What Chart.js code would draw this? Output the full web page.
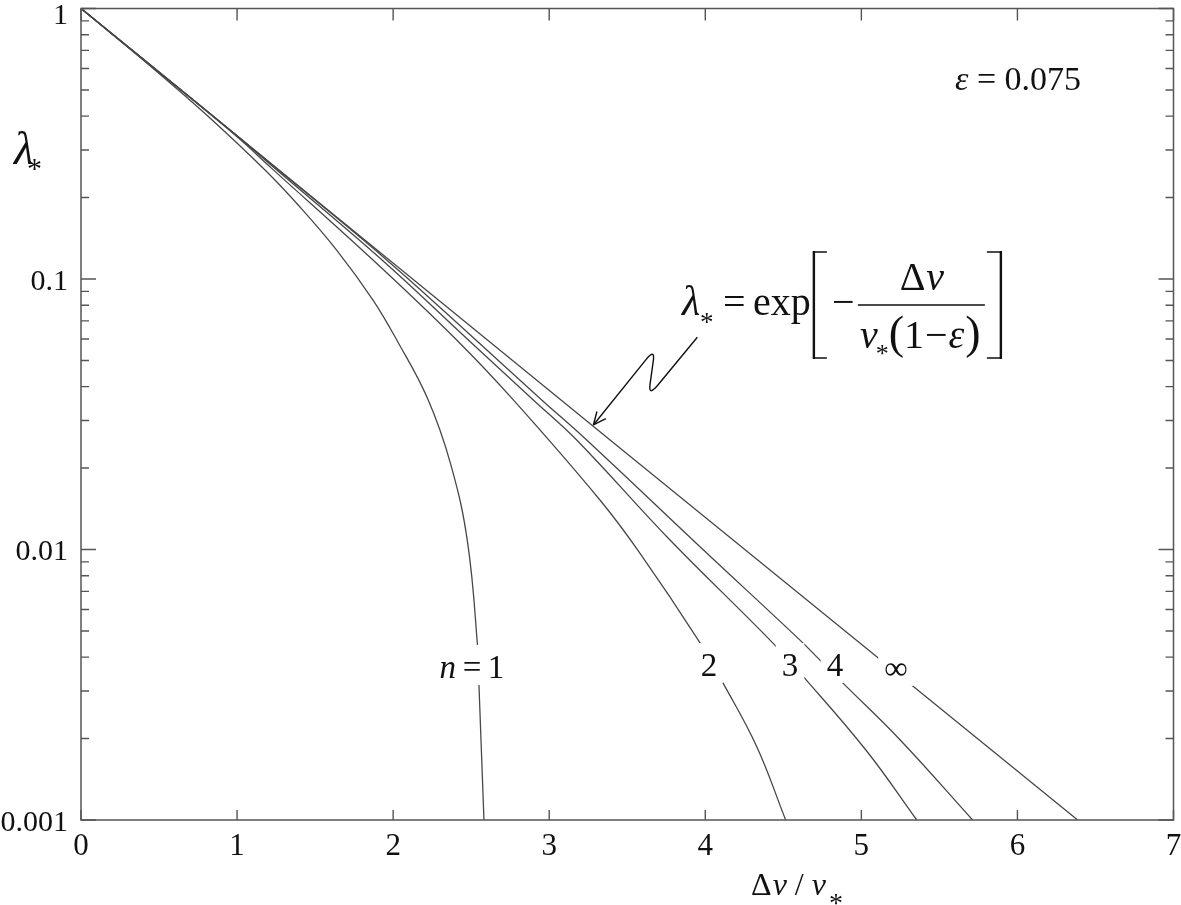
<!DOCTYPE html>
<html>
<head>
<meta charset="utf-8">
<script src="https://cdn.jsdelivr.net/npm/chart.js@4.4.1/dist/chart.umd.min.js"></script>
<style>
  html, body { margin: 0; padding: 0; background: #fff; }
  #wrap { width: 1181px; height: 905px; position: relative; }
</style>
</head>
<body>
<div id="wrap"><canvas id="c"></canvas></div>
<script>
// ---- data (x = Δv/v*, y = λ*) ----
const xN1 = [0, 0.5, 0.8, 1.179, 1.4, 1.638, 1.871, 2.023, 2.22, 2.369, 2.476, 2.54, 2.55, 2.582];
const yN1 = [1, 0.5754, 0.4064, 0.2529, 0.1854, 0.1279, 0.08356, 0.0595, 0.03622, 0.02065, 0.01072, 0.004446, 0.003133, 0.001];

const xN2 = [0, 0.5, 1.0, 1.22, 1.871, 2.407, 2.770, 3.325, 3.582, 3.955, 4.115, 4.330, 4.515];
const yN2 = [1, 0.5808, 0.3357, 0.2570, 0.1175, 0.0595, 0.03573, 0.01524, 0.00968, 0.004624, 0.003199, 0.001866, 0.001];

const xN3 = [0, 0.5, 1.0, 1.23, 1.92, 2.482, 2.898, 3.176, 3.774, 4.415, 4.628, 5.034, 5.355];
const yN3 = [1, 0.5821, 0.3381, 0.2600, 0.1189, 0.0595, 0.03573, 0.02541, 0.01084, 0.004624, 0.003388, 0.001799, 0.001];

const xN4 = [0, 0.5, 1.0, 1.25, 1.94, 2.53, 2.952, 3.240, 3.985, 4.607, 4.735, 4.884, 5.249, 5.713];
const yN4 = [1, 0.5821, 0.3388, 0.2570, 0.1202, 0.0595, 0.03573, 0.02541, 0.01, 0.004624, 0.003899, 0.003199, 0.001977, 0.001];

const xInf = [0, 3.390, 6.386];
const yInf = [1, 0.02541, 0.001];

const xTicks = [0, 1, 2, 3, 4, 5, 6, 7];
const xTickLabels = ['0', '1', '2', '3', '4', '5', '6', '7'];
const yTickValues = [0.001, 0.01, 0.1, 1];
const yTickLabels = ['0.001', '0.01', '0.1', '1'];

// curve labels (data coordinates)
const curveLabels = [
  { x: 2.505, y: 0.00368, runs: [['n', true], ['\u2009=\u2009', false], ['1', false]] },
  { x: 4.024, y: 0.00374, runs: [['2', false]] },
  { x: 4.543, y: 0.00374, runs: [['3', false]] },
  { x: 4.831, y: 0.00374, runs: [['4', false]] },
  { x: 5.222, y: 0.00365, runs: [['\u221E', false]] }
];
const epsText = { x: 5.60, y: 0.5 };
const formulaAnchor = { x: 3.85, y: 0.0736 };
const arrowPath = [[3.949, 0.0609], [3.635, 0.03672], [3.678, 0.05543], [3.283, 0.02886]];

const SERIF = "'Liberation Serif', 'Times New Roman', serif";
const F = (s, it) => (it ? 'italic ' : '') + s + 'px ' + SERIF;
const mk = (xs, ys) => xs.map((v, i) => ({ x: v, y: ys[i] }));

function runsWidth(ctx, runs) {
  let w = 0;
  for (const r of runs) { ctx.font = r.f; w += ctx.measureText(r.t).width + (r.dx || 0); }
  return w;
}
function drawRuns(ctx, x, y, runs, align) {
  if (align === 'center') x -= runsWidth(ctx, runs) / 2;
  for (const r of runs) {
    x += (r.dx || 0);
    ctx.font = r.f;
    ctx.fillText(r.t, x, y + (r.dy || 0));
    x += ctx.measureText(r.t).width;
  }
}

const decor = {
  id: 'decor',
  afterDraw(chart) {
    const { ctx, chartArea: a } = chart;
    const xs = chart.scales.x, ys = chart.scales.y;
    ctx.save();
    // frame
    ctx.strokeStyle = '#555';
    ctx.lineWidth = 1.5;
    ctx.strokeRect(a.left, a.top, a.right - a.left, a.bottom - a.top);
    // x ticks
    ctx.lineWidth = 1.4;
    ctx.beginPath();
    for (const v of xTicks) {
      const px = xs.getPixelForValue(v);
      ctx.moveTo(px, a.bottom); ctx.lineTo(px, a.bottom - 10);
      ctx.moveTo(px, a.top); ctx.lineTo(px, a.top + 12);
    }
    // y ticks (major at decades, minor 2..9)
    for (let e = -3; e <= 0; e++) {
      for (let m = 1; m <= 9; m++) {
        const v = m * Math.pow(10, e);
        if (v > 1.0000001) break;
        const py = ys.getPixelForValue(v);
        const len = m === 1 ? 15 : 8;
        ctx.moveTo(a.left, py); ctx.lineTo(a.left + len, py);
        ctx.moveTo(a.right, py); ctx.lineTo(a.right - len, py);
      }
    }
    ctx.stroke();

    // tick labels
    ctx.fillStyle = '#111';
    ctx.font = F(31, false);
    ctx.textBaseline = 'alphabetic';
    ctx.textAlign = 'center';
    xTicks.forEach((v, i) => {
      ctx.fillText(xTickLabels[i], xs.getPixelForValue(v), a.bottom + 35);
    });
    ctx.font = F(30, false);
    ctx.textAlign = 'right';
    yTickValues.forEach((v, i) => {
      const py = ys.getPixelForValue(v);
      const base = Math.max(py + 10.5, a.top + 15);
      ctx.fillText(yTickLabels[i], a.left - 13, base);
    });
    ctx.textAlign = 'left';

    // axis titles
    drawRuns(ctx, 797, 895, [
      { t: '\u0394', f: F(32, false) },
      { t: 'v', f: F(32, true), dx: 1 },
      { t: '/', f: F(32, false), dx: 8 },
      { t: 'v', f: F(32, true), dx: 8 },
      { t: '*', f: F(28, false), dx: 3, dy: 17 }
    ], 'center');
    drawRuns(ctx, 14, 164, [
      { t: '\u03BB', f: F(46, true) },
      { t: '*', f: F(30, false), dx: -7, dy: 14 }
    ]);

    // epsilon annotation
    const ex = xs.getPixelForValue(epsText.x), ey = ys.getPixelForValue(epsText.y);
    drawRuns(ctx, ex, ey, [
      { t: '\u03B5', f: F(34, true) },
      { t: ' = ', f: F(34, false) },
      { t: '0.075', f: F(34, false) }
    ]);

    // curve labels with white background
    for (const L of curveLabels) {
      const px = xs.getPixelForValue(L.x), py = ys.getPixelForValue(L.y);
      const runs = L.runs.map(r => ({ t: r[0], f: F(33, r[1]) }));
      const w = runsWidth(ctx, runs);
      ctx.fillStyle = '#fff';
      ctx.fillRect(px - w / 2 - 6, py - 22, w + 12, 40);
      ctx.fillStyle = '#111';
      drawRuns(ctx, px, py + 11, runs, 'center');
    }

    // formula
    const fx = xs.getPixelForValue(formulaAnchor.x), fy = ys.getPixelForValue(formulaAnchor.y);
    const FS = 40;
    drawRuns(ctx, fx, fy, [{ t: '\u03BB', f: F(42, true) }]);
    drawRuns(ctx, fx + 18, fy + 16, [{ t: '*', f: F(27, false) }]);
    drawRuns(ctx, fx + 41, fy, [{ t: '=', f: F(FS, false) }]);
    drawRuns(ctx, fx + 71, fy, [{ t: 'exp', f: F(FS, false) }]);
    drawRuns(ctx, fx + 150, fy, [{ t: '\u2212', f: F(FS, false) }]);
    drawRuns(ctx, fx + 240, fy - 25, [
      { t: '\u0394', f: F(FS, false) },
      { t: 'v', f: F(FS, true), dx: 1 }
    ], 'center');
    drawRuns(ctx, fx + 178, fy + 33, [
      { t: 'v', f: F(FS, true) },
      { t: '*', f: F(26, false), dx: -2, dy: 14 },
      { t: '(', f: F(46, false), dx: 0 },
      { t: '1', f: F(FS, false) },
      { t: '\u2212', f: F(FS, false), dx: 1 },
      { t: '\u03B5', f: F(FS, true), dx: 1 },
      { t: ')', f: F(46, false), dx: 1 }
    ]);
    ctx.strokeStyle = '#111';
    ctx.lineWidth = 1.6;
    ctx.beginPath();
    ctx.moveTo(fx + 176, fy - 10); ctx.lineTo(fx + 303, fy - 10);
    // brackets
    ctx.moveTo(fx + 145, fy - 63); ctx.lineTo(fx + 132, fy - 63);
    ctx.moveTo(fx + 132, fy + 43); ctx.lineTo(fx + 145, fy + 43);
    ctx.moveTo(fx + 305, fy - 63); ctx.lineTo(fx + 319, fy - 63);
    ctx.moveTo(fx + 305, fy + 43); ctx.lineTo(fx + 319, fy + 43);
    ctx.stroke();
    ctx.lineWidth = 2.4;
    ctx.beginPath();
    ctx.moveTo(fx + 132, fy - 64); ctx.lineTo(fx + 132, fy + 44);
    ctx.moveTo(fx + 319, fy - 64); ctx.lineTo(fx + 319, fy + 44);
    ctx.stroke();

    // squiggle arrow
    const P = arrowPath.map(p => [xs.getPixelForValue(p[0]), ys.getPixelForValue(p[1])]);
    const lerp = (p, q, t) => [p[0] + (q[0] - p[0]) * t, p[1] + (q[1] - p[1]) * t];
    ctx.lineWidth = 1.4;
    ctx.strokeStyle = '#111';
    ctx.beginPath();
    ctx.moveTo(P[0][0], P[0][1]);
    let s1 = lerp(P[0], P[1], 0.8), e1 = lerp(P[1], P[2], 0.25);
    ctx.lineTo(s1[0], s1[1]);
    ctx.quadraticCurveTo(P[1][0], P[1][1], e1[0], e1[1]);
    let s2 = lerp(P[1], P[2], 0.75), e2 = lerp(P[2], P[3], 0.15);
    ctx.lineTo(s2[0], s2[1]);
    ctx.quadraticCurveTo(P[2][0], P[2][1], e2[0], e2[1]);
    ctx.lineTo(P[3][0], P[3][1]);
    ctx.stroke();
    const ang = Math.atan2(P[3][1] - P[2][1], P[3][0] - P[2][0]);
    ctx.beginPath();
    for (const d of [0.42, -0.42]) {
      ctx.moveTo(P[3][0], P[3][1]);
      ctx.lineTo(P[3][0] - 14 * Math.cos(ang + d), P[3][1] - 14 * Math.sin(ang + d));
    }
    ctx.stroke();
    ctx.restore();
  }
};

const ds = (label, xs, ys) => ({
  label, data: mk(xs, ys), showLine: true, pointRadius: 0,
  borderColor: '#474747', borderWidth: 1.3, tension: 0.4, fill: false
});

new Chart(document.getElementById('c'), {
  type: 'scatter',
  data: {
    datasets: [
      ds('n = 1', xN1, yN1),
      ds('n = 2', xN2, yN2),
      ds('n = 3', xN3, yN3),
      ds('n = 4', xN4, yN4),
      ds('n = \u221E', xInf, yInf)
    ]
  },
  options: {
    responsive: true,
    maintainAspectRatio: false,
    animation: false,
    layout: { padding: { top: 8.5, right: 7.5, left: 0, bottom: 0 } },
    plugins: { legend: { display: false }, tooltip: { enabled: false } },
    scales: {
      x: {
        type: 'linear', min: 0, max: 7,
        ticks: { stepSize: 1, display: false },
        grid: { display: false }, border: { display: false },
        afterFit: s => { s.height = 85; }
      },
      y: {
        type: 'logarithmic', min: 0.001, max: 1,
        ticks: { display: false },
        grid: { display: false }, border: { display: false },
        afterFit: s => { s.width = 81; }
      }
    }
  },
  plugins: [decor]
});
</script>
</body>
</html>
